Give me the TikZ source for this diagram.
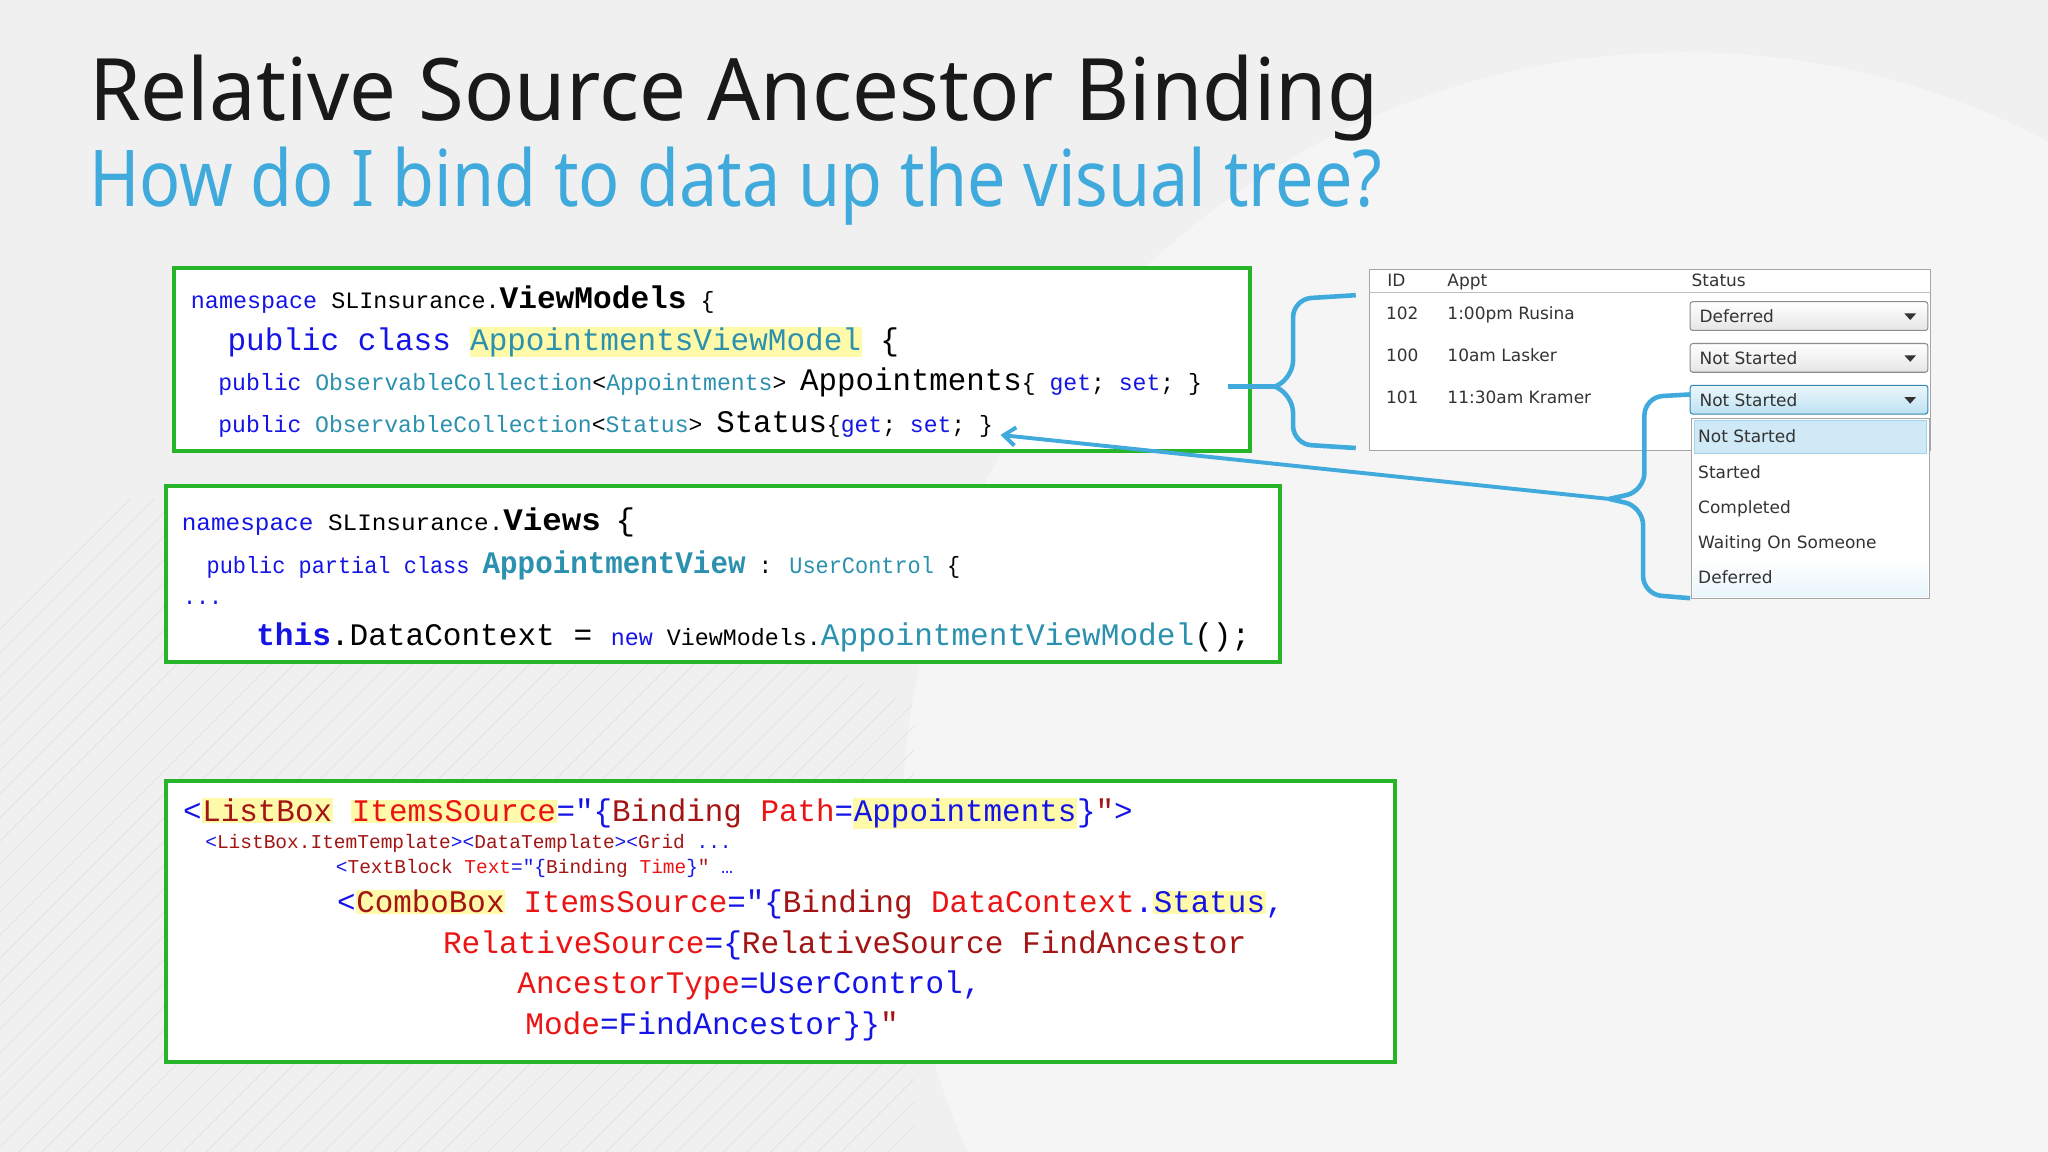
\documentclass[tikz,border=0pt]{standalone}
\usepackage{fontspec}
\usepackage{graphicx}
\usetikzlibrary{arrows.meta}
\setmainfont{Noto Sans}
\newfontfamily\code{Liberation Mono}
\newfontfamily\ui{DejaVu Sans}
\definecolor{kw}{RGB}{20,20,230}
\definecolor{ty}{RGB}{43,145,175}
\definecolor{xr}{RGB}{235,20,20}
\definecolor{xd}{RGB}{163,21,21}
\definecolor{hly}{RGB}{255,250,170}
\definecolor{gbox}{RGB}{40,180,40}
\definecolor{lb}{RGB}{65,170,220}
\definecolor{bgc}{RGB}{240,240,240}
\newcommand\hlt[1]{{\setlength\fboxsep{0.5pt}\colorbox{hly}{#1}}}
\newcommand\bg[1]{{\fontsize{24}{24}\selectfont\bfseries #1}}
\newcommand\bgn[1]{{\fontsize{24}{24}\selectfont #1}}
\tikzset{
 ln/.style={anchor=base west,inner sep=0pt,font=\code\fontsize{18}{18}\selectfont},
 box/.style={draw=gbox,line width=3pt,fill=white},
 brace/.style={draw=lb,line width=3.5pt,rounded corners=14pt},
 uit/.style={anchor=base west,inner sep=0pt,font=\ui\fontsize{13}{13}\selectfont,text=black!80},
 combo/.style={draw=black!45,rounded corners=2pt,top color=white,bottom color=black!10,line width=0.8pt}
}
\newcommand\fit[2]{\resizebox{#1pt}{\height}{#2}}
\begin{document}
\begin{tikzpicture}[x=1pt,y=-1pt]
\useasboundingbox (0,0) rectangle (1568,882);
\fill[bgc] (0,0) rectangle (1568,882);
\begin{scope}
\clip (0,0) rectangle (1568,882);
\fill[white!35!bgc] (1290,640) circle (600);
\clip (0,380) -- (0,882) -- (700,882) -- (700,540) -- (350,380) -- cycle;
\foreach \i in {0,...,60} \draw[black!10,line width=0.8pt] (-400+\i*18,882) -- ++(500,-500);
\end{scope}
% titles
\node[anchor=base west,inner sep=0pt,text=black!90] (title) at (68,92) {\fit{987}{\fontsize{66}{66}\selectfont Relative Source Ancestor Binding}};
\node[anchor=base west,inner sep=0pt,text=lb] (sub) at (68,158) {\fit{990}{\fontsize{60}{60}\selectfont How do I bind to data up the visual tree?}};
% boxes
\draw[box] (133,205) rectangle (957,345);
\draw[box] (127,372) rectangle (980,507);
\draw[box] (127,598) rectangle (1068,813);
% box1
\node[ln] (a1) at (146,236) {\fit{401}{\color{kw}namespace \color{black}SLInsurance.\bg{ViewModels} \{}};
\node[ln] (a2) at (174,268) {\fit{514}{\fontsize{24}{24}\selectfont\color{kw}public class \color{ty}\hlt{AppointmentsViewModel} \color{black}\{}};
\node[ln] (a3) at (167,299) {\fit{753}{\color{kw}public \color{ty}ObservableCollection\color{black}<\color{ty}Appointments\color{black}> \bgn{Appointments}\{ \color{kw}get\color{black}; \color{kw}set\color{black}; \}}};
\node[ln] (a4) at (167,331) {\fit{593}{\color{kw}public \color{ty}ObservableCollection\color{black}<\color{ty}Status\color{black}> \bgn{Status}\{\color{kw}get\color{black}; \color{kw}set\color{black}; \}}};
\coordinate (statusend) at (766,333);
\coordinate (apptend) at (940,296);
% box2
\node[ln] (b1) at (139,406) {\fit{347}{\color{kw}namespace \color{black}SLInsurance.\bg{Views} \bgn{\{}}};
\node[ln] (b2) at (158,439) {\fit{577}{\color{kw}public partial class \color{ty}\bg{AppointmentView} \color{black}: \color{ty}UserControl \color{black}\{}};
\node[ln,text=kw] (b3) at (140,463) {\fit{30}{...}};
\node[ln] (b4) at (196,494) {\fit{761}{\fontsize{24}{24}\selectfont\color{kw}\textbf{this}\color{black}.DataContext = {\fontsize{18}{18}\selectfont\color{kw}new \color{black}ViewModels.}\color{ty}AppointmentViewModel\color{black}();}};
% box3
\node[ln] (c1) at (140,629) {\fit{727}{\fontsize{24}{24}\selectfont\color{kw}<\color{xd}\hlt{ListBox} \hlt{\color{xr}ItemsSource}\color{kw}="\{\color{xd}Binding \color{xr}Path\color{kw}=\hlt{Appointments}\}\color{xd}"\color{kw}>}};
\node[ln] (c2) at (157,650) {\fit{403}{\fontsize{15}{15}\selectfont\color{kw}<\color{xd}ListBox.ItemTemplate\color{kw}><\color{xd}DataTemplate\color{kw}><\color{xd}Grid \color{kw}...}};
\node[ln] (c3) at (257,669) {\fit{304}{\fontsize{15}{15}\selectfont\color{kw}<\color{xd}TextBlock \color{xr}Text\color{kw}="\{\color{xd}Binding \color{xr}Time\color{kw}\}\color{xd}" \color{kw}…}};
\node[ln] (c4) at (258,699) {\fit{725}{\fontsize{24}{24}\selectfont\color{kw}<\color{xd}\hlt{ComboBox} \color{xr}ItemsSource\color{kw}="\{\color{xd}Binding \color{xr}DataContext\color{kw}.\hlt{Status},}};
\node[ln] (c5) at (339,730) {\fit{615}{\fontsize{24}{24}\selectfont\color{xr}RelativeSource\color{kw}=\{\color{xd}RelativeSource FindAncestor}};
\node[ln] (c6) at (396,761) {\fit{355}{\fontsize{24}{24}\selectfont\color{xr}AncestorType\color{kw}=UserControl,}};
\node[ln] (c7) at (402,792) {\fit{286}{\fontsize{24}{24}\selectfont\color{xr}Mode\color{kw}=FindAncestor\}\}\color{xd}"}};
% right panel
\draw[fill=white,draw=black!35] (1048,206) rectangle (1478,345);
\draw[black!25] (1048,224) -- (1478,224);
\node[uit] (hid) at (1062,219) {ID};
\node[uit] (hap) at (1108,219) {Appt};
\node[uit] (hst) at (1295,219) {Status};
\foreach \y/\i/\a in {245/102/1:00pm Rusina,277/100/10am Lasker,309/101/11:30am Kramer}{
 \node[uit] at (1061,\y) {\i};
 \node[uit] at (1108,\y) {\a};
}
\draw[combo] (1294,231) rectangle (1476,253);
\draw[combo] (1294,263) rectangle (1476,285);
\draw[combo,draw=lb!80!black,top color=lb!10,bottom color=lb!35] (1294,295) rectangle (1476,317);
\node[uit] (s1) at (1301,247) {Deferred};
\node[uit] (s2) at (1301,279) {Not Started};
\node[uit] (s3) at (1301,311) {Not Started};
\foreach \y in {242,274,306} \fill[black!80] (1458,\y-2) -- (1467,\y-2) -- (1462.5,\y+3) -- cycle;
\draw[fill=white,draw=black!35] (1295,320) rectangle (1477,458);
\draw[fill=lb!25,draw=lb!50] (1297,322) rectangle (1475,347);
\fill[top color=white,bottom color=lb!12] (1296,428) rectangle (1476,457);
\node[uit] (d1) at (1300,339) {Not Started};
\node[uit] (d2) at (1300,366) {Started};
\node[uit] (d3) at (1300,393) {Completed};
\node[uit] (d4) at (1300,420) {Waiting On Someone};
\node[uit] (d5) at (1300,447) {Deferred};
% braces
\coordinate (t1) at (1038,226);
\coordinate (m1) at (976,296);
\coordinate (e1) at (1038,343);
\draw[brace] (t1) -- (990,229) -- (990,290) -- (m1);
\draw[brace] (m1) -- (990,302) -- (990,340) -- (e1);
\draw[draw=lb,line width=3.5pt] (apptend) -- (m1);
\coordinate (t2) at (1294,302);
\coordinate (m2) at (1232,382);
\coordinate (e2) at (1294,458);
\draw[brace] (t2) -- (1259,304) -- (1259,376) -- (m2);
\draw[brace] (m2) -- (1258,388) -- (1258,455) -- (e2);
\draw[draw=lb,line width=3pt,-{Straight Barb[length=9pt,width=14pt]}] (m2) -- (statusend);
\end{tikzpicture}
\end{document}
